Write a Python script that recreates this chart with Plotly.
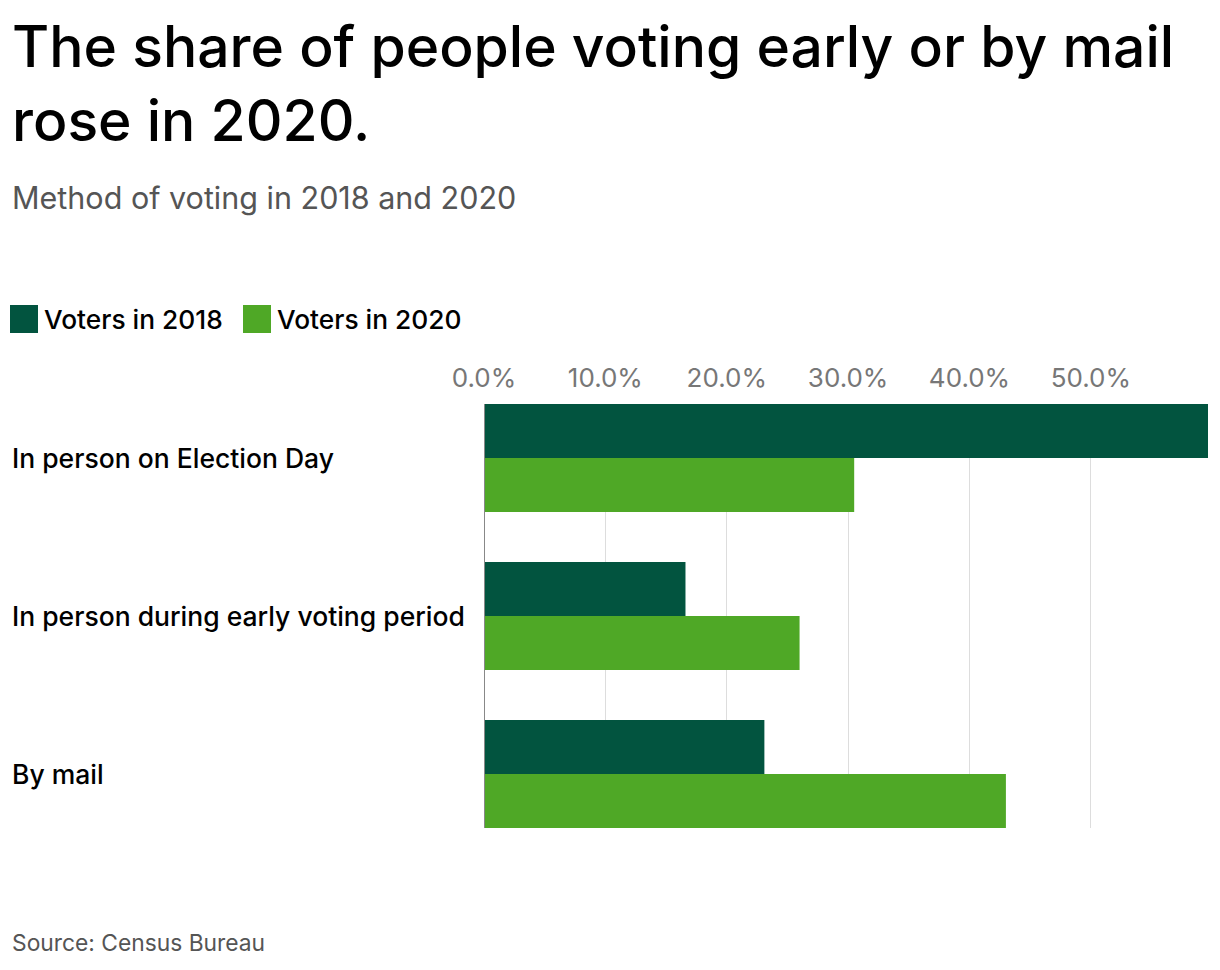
import plotly.graph_objects as go

categories = ["In person on Election Day", "In person during early voting period", "By mail"]
voters_2018 = [59.7, 16.6, 23.1]
voters_2020 = [30.5, 26.0, 43.0]
series_names = ["Voters in 2018", "Voters in 2020"]
tick_values = [0, 10, 20, 30, 40, 50]
tick_labels = ["0.0%", "10.0%", "20.0%", "30.0%", "40.0%", "50.0%"]

W, H = 1220, 970
OFF = 8  # page body margin
ML, MR, MT, MB = 484 - OFF, 12 + OFF, 404 - OFF, 142 + OFF
PH = H - MT - MB
PW = W - ML - MR
C2018 = "#02543F"
C2020 = "#4FA826"
FONT = "Inter"

def px(x):
    return (x - OFF - ML) / PW

def py(y):
    return (H - MB - (y - OFF)) / PH

fig = go.Figure()
fig.add_trace(go.Bar(y=categories, x=voters_2018, name=series_names[0], orientation="h",
                     marker=dict(color=C2018, line=dict(width=0)), showlegend=False))
fig.add_trace(go.Bar(y=categories, x=voters_2020, name=series_names[1], orientation="h",
                     marker=dict(color=C2020, line=dict(width=0)), showlegend=False))

ann = []
shapes = []
ann.append(dict(text="The share of people voting early or by mail<br>rose in 2020.",
                x=px(10), y=py(83), xref="paper", yref="paper", xanchor="left", yanchor="middle",
                align="left", showarrow=False,
                font=dict(family=FONT, size=57, color="#000", weight=500)))
ann.append(dict(text="Method of voting in 2018 and 2020",
                x=px(10), y=py(197), xref="paper", yref="paper", xanchor="left", yanchor="middle",
                showarrow=False, font=dict(family=FONT, size=30.5, color="#555")))
ann.append(dict(text="Source: Census Bureau",
                x=px(10), y=py(942), xref="paper", yref="paper", xanchor="left", yanchor="middle",
                showarrow=False, font=dict(family=FONT, size=22.8, color="#555")))
# legend
leg_x = [10, 243]
for name, col, lx in zip(series_names, [C2018, C2020], leg_x):
    shapes.append(dict(type="rect", xref="paper", yref="paper",
                       x0=px(lx), x1=px(lx + 28), y0=py(333), y1=py(305),
                       fillcolor=col, line=dict(width=0)))
    ann.append(dict(text=name, x=px(lx + 32), y=py(319), xref="paper", yref="paper",
                    xanchor="left", yanchor="middle", showarrow=False,
                    font=dict(family=FONT, size=26.3, color="#000", weight=500)))
# category labels
for c in categories:
    ann.append(dict(text=c, x=px(10), y=c, xref="paper", yref="y", xanchor="left",
                    yanchor="middle", showarrow=False,
                    font=dict(family=FONT, size=26.5, color="#000", weight=500)))

fig.update_layout(
    width=W, height=H, margin=dict(l=ML, r=MR, t=MT, b=MB, autoexpand=False),
    paper_bgcolor="white", plot_bgcolor="white",
    barmode="group", bargap=0.3165, bargroupgap=0,
    annotations=ann, shapes=shapes, showlegend=False,
    font=dict(family=FONT),
    xaxis=dict(side="top", range=[0, 59.65], tickvals=tick_values, ticktext=tick_labels,
               showgrid=True, gridcolor="#DDDDDD", gridwidth=1, zeroline=False,
               showline=False, ticks="", ticklabelstandoff=11,
               tickfont=dict(family=FONT, size=26, color="#777")),
    yaxis=dict(range=[2.3418, -0.3418], showticklabels=False, showgrid=False,
               zeroline=False, showline=False, ticks=""),
)
# zero axis line
fig.add_shape(type="line", xref="x", yref="paper", x0=0, x1=0, y0=0, y1=1,
              line=dict(color="#888888", width=2), layer="above")

fig.write_html("out.html")
